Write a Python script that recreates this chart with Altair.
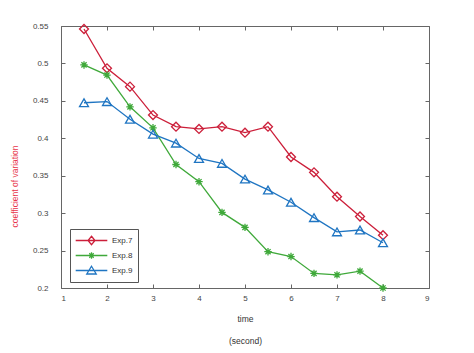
import altair as alt
import pandas as pd

times = [1.5, 2, 2.5, 3, 3.5, 4, 4.5, 5, 5.5, 6, 6.5, 7, 7.5, 8]
exp7 = [0.546, 0.4935, 0.469, 0.431, 0.4155, 0.4125, 0.4155, 0.4075, 0.4155, 0.375, 0.3545, 0.322, 0.2955, 0.2705]
exp8 = [0.498, 0.4845, 0.442, 0.414, 0.365, 0.342, 0.301, 0.281, 0.2485, 0.242, 0.2195, 0.2175, 0.2225, 0.2]
exp9 = [0.4475, 0.449, 0.4255, 0.4055, 0.3935, 0.373, 0.3665, 0.3455, 0.331, 0.3145, 0.294, 0.275, 0.2775, 0.2605]
series = ["Exp.7", "Exp.8", "Exp.9"]
colors = ["#cc1f3a", "#3fa93a", "#1f75c2"]

x_ticks = [1, 2, 3, 4, 5, 6, 7, 8, 9]
y_ticks = [0.2, 0.25, 0.3, 0.35, 0.4, 0.45, 0.5, 0.55]

rows = []
for name, vals in zip(series, [exp7, exp8, exp9]):
    for t, v in zip(times, vals):
        rows.append({"time": t, "cv": v, "series": name})
df = pd.DataFrame(rows)

LABEL_COLOR = "#444444"
FONT = "Liberation Sans"

xscale = alt.Scale(domain=[1, 9], nice=False)
yscale = alt.Scale(domain=[0.2, 0.55], nice=False, zero=False)
cscale = alt.Scale(domain=series, range=colors)

ASTERISK = "M0,-1L0,1M-1,0L1,0M-0.7,-0.7L0.7,0.7M-0.7,0.7L0.7,-0.7"
legend_paths = [
    "M-1,0L1,0M0,-0.27L0.22,0L0,0.27L-0.22,0Z",
    "M-1,0L1,0M0,-0.2L0,0.2M-0.2,0L0.2,0M-0.14,-0.14L0.14,0.14M-0.14,0.14L0.14,-0.14",
    "M-1,0L1,0M0,-0.27L0.3,0.22L-0.3,0.22Z",
]

base = alt.Chart(df)

# lines with labelled axes
lines = base.mark_line(strokeWidth=1.3).encode(
    x=alt.X("time:Q", scale=xscale, axis=alt.Axis(
        values=x_ticks, grid=False, domain=False, ticks=False, tickSize=0,
        labelPadding=6, labelFontSize=8, labelColor=LABEL_COLOR, labelFont=FONT,
        title=["time", "(second)"], titleLineHeight=22, titlePadding=12,
        titleFontSize=8.5, titleFontWeight="normal", titleColor="#333333", titleFont=FONT)),
    y=alt.Y("cv:Q", scale=yscale, axis=alt.Axis(
        values=y_ticks, format=".2~f", grid=False, domain=False, ticks=False, tickSize=0,
        labelPadding=13, labelFontSize=8, labelColor=LABEL_COLOR, labelFont=FONT,
        title="coefficient of variation", titleColor="#e8344a", titleFontSize=8.5,
        titleFontWeight="normal", titleFont=FONT, titleX=-47, titleY=160,
        titleAngle=270, titleAlign="center", titleBaseline="middle")),
    color=alt.Color("series:N", scale=cscale),
)

# invisible layer carrying the legend (line + marker symbols), also top/right inward ticks
legend_layer = base.mark_point(opacity=0, filled=False).encode(
    x=alt.X("time:Q", scale=xscale, axis=alt.Axis(
        orient="top", values=x_ticks, labels=False, domain=False, grid=False,
        ticks=True, tickSize=4, offset=-4, tickColor="#666666", title=None)),
    y=alt.Y("cv:Q", scale=yscale, axis=alt.Axis(
        orient="right", values=y_ticks, labels=False, domain=False, grid=False,
        ticks=True, tickSize=4, offset=-4, tickColor="#666666", title=None)),
    color=alt.Color("series:N", scale=cscale, legend=alt.Legend(
        title=None, orient="none", legendX=9, legendY=203,
        fillColor="white", strokeColor="#555555", padding=5,
        symbolSize=1000, clipHeight=13, rowPadding=2, symbolOpacity=1,
        symbolStrokeWidth=1.3, symbolFillColor="transparent",
        labelFontSize=8, labelFont=FONT, labelColor="#333333", labelOffset=4)),
    shape=alt.Shape("series:N", scale=alt.Scale(domain=series, range=legend_paths)),
)

def pts(name, shape, size, axes):
    sub = base.transform_filter(alt.datum.series == name)
    if axes:
        xax = alt.Axis(orient="bottom", values=x_ticks, labels=False, domain=False, grid=False,
                       ticks=True, tickSize=4, offset=-4, tickColor="#666666", title=None)
        yax = alt.Axis(orient="left", values=y_ticks, labels=False, domain=False, grid=False,
                       ticks=True, tickSize=4, offset=-4, tickColor="#666666", title=None)
    else:
        xax = None
        yax = None
    return sub.mark_point(filled=False, strokeWidth=1.3, opacity=1).encode(
        x=alt.X("time:Q", scale=xscale, axis=xax),
        y=alt.Y("cv:Q", scale=yscale, axis=yax),
        color=alt.Color("series:N", scale=cscale),
        shape=alt.value(shape),
        size=alt.value(size),
    )

p7 = pts("Exp.7", "diamond", 80, True)
p8 = pts("Exp.8", ASTERISK, 55, False)
p9 = pts("Exp.9", "triangle-up", 80, False)

chart = alt.layer(lines, legend_layer, p7, p8, p9).resolve_axis(
    x="independent", y="independent"
).properties(
    width=368, height=262,
    autosize=alt.AutoSizeParams(type="none"),
    padding={"left": 61, "top": 26, "right": 45, "bottom": 65},
    background="white",
).configure_view(stroke="#666666", strokeWidth=1)

chart.save("out.html", embed_options={"renderer": "svg", "actions": False})
